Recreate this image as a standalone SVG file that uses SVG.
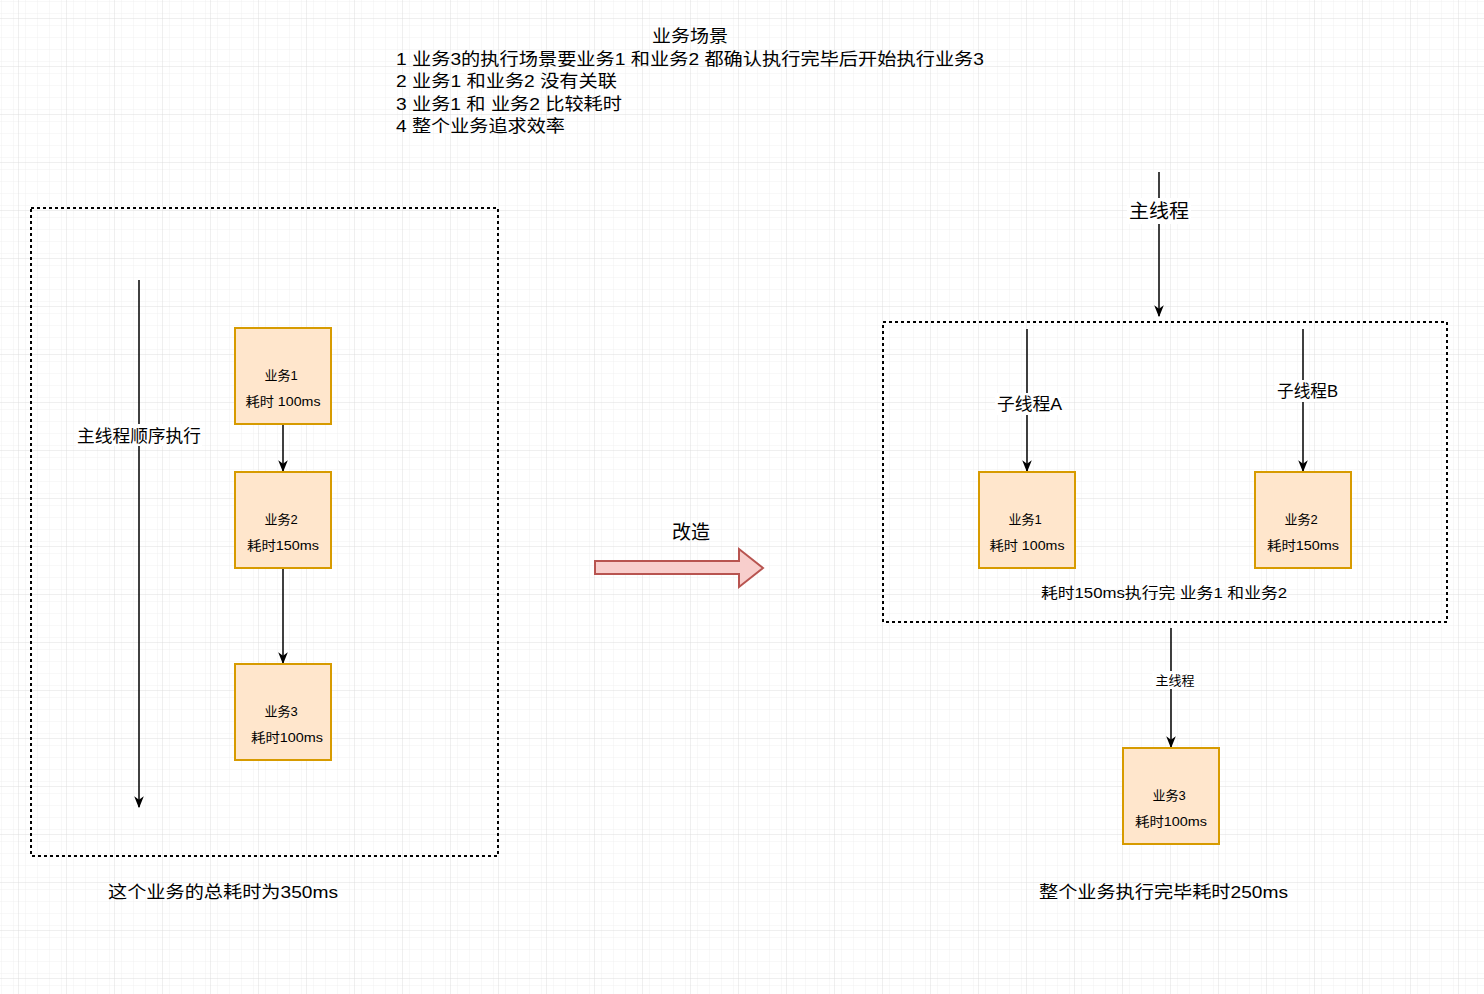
<svg xmlns="http://www.w3.org/2000/svg" width="1484" height="994" viewBox="0 0 1484 994">
<defs>
<pattern id="minor" width="12" height="12" patternUnits="userSpaceOnUse" x="7" y="7"><path d="M12 0V12H0" fill="none" stroke="#f0f0f0" stroke-width="1"/></pattern>
<pattern id="major" width="48" height="48" patternUnits="userSpaceOnUse" x="19" y="19"><rect width="48" height="48" fill="url(#minor)"/><path d="M48 0V48H0" fill="none" stroke="#dedede" stroke-width="1"/></pattern>
<marker id="ah" viewBox="0 0 10 10" refX="9" refY="5" markerWidth="8" markerHeight="8" orient="auto"><path d="M0 1L10 5L0 9L3 5Z" fill="#000"/></marker>
<style>
text{font-family:"Liberation Sans","Noto Sans CJK SC",sans-serif;fill:#000}
.box{fill:#ffe6cc;stroke:#d79b00;stroke-width:2}
.dash{fill:none;stroke:#000;stroke-width:2;stroke-dasharray:3 3}
.ln{stroke:#000;stroke-width:1.5;fill:none;marker-end:url(#ah)}
.s{font-size:13px;text-anchor:middle}
.m{font-size:17px}
.lb{fill:#fff}
</style>
</defs>
<rect width="1484" height="994" fill="#fff"/>
<rect width="1484" height="994" fill="url(#major)"/>
<g id="title"><text x="652" y="42" class="m" textLength="76" lengthAdjust="spacingAndGlyphs">业务场景</text>
<text x="396" y="65" class="m" textLength="588" lengthAdjust="spacingAndGlyphs">1 业务3的执行场景要业务1 和业务2 都确认执行完毕后开始执行业务3</text>
<text x="396" y="87" class="m" textLength="221" lengthAdjust="spacingAndGlyphs">2 业务1 和业务2 没有关联</text>
<text x="396" y="110" class="m" textLength="226" lengthAdjust="spacingAndGlyphs">3 业务1 和 业务2 比较耗时</text>
<text x="396" y="132" class="m" textLength="169" lengthAdjust="spacingAndGlyphs">4 整个业务追求效率</text></g>
<g id="left-frame"><rect x="31" y="208" width="467" height="648" class="dash"/></g>
<g id="right-frame"><rect x="883" y="322" width="564" height="300" class="dash"/></g>
<g id="connectors">
<line x1="139" y1="280" x2="139" y2="807" class="ln"/>
<line x1="283" y1="425" x2="283" y2="471" class="ln"/>
<line x1="283" y1="569" x2="283" y2="663" class="ln"/>
<line x1="1159" y1="172" x2="1159" y2="316" class="ln"/>
<line x1="1027" y1="329" x2="1027" y2="471" class="ln"/>
<line x1="1303" y1="329" x2="1303" y2="471" class="ln"/>
<line x1="1171" y1="628" x2="1171" y2="747" class="ln"/>
<rect x="76" y="424" width="126" height="22" class="lb"/><text x="77" y="442" class="m" textLength="124" lengthAdjust="spacingAndGlyphs">主线程顺序执行</text>
<rect x="1127" y="198" width="64" height="26" class="lb"/><text x="1129" y="218" font-size="19" textLength="60" lengthAdjust="spacingAndGlyphs">主线程</text>
<rect x="995" y="393" width="66" height="22" class="lb"/><text x="997" y="410" class="m" textLength="65" lengthAdjust="spacingAndGlyphs">子线程A</text>
<rect x="1275" y="380" width="64" height="22" class="lb"/><text x="1277" y="397" class="m" textLength="61" lengthAdjust="spacingAndGlyphs">子线程B</text>
<rect x="1152" y="671" width="46" height="18" class="lb"/><text x="1175" y="685" class="s">主线程</text>
</g>
<g id="b1l"><rect x="235" y="328" width="96" height="96" class="box"/><text x="281" y="380" class="s">业务1</text><text x="283" y="406" class="s" textLength="75" lengthAdjust="spacingAndGlyphs">耗时 100ms</text></g>
<g id="b2l"><rect x="235" y="472" width="96" height="96" class="box"/><text x="281" y="524" class="s">业务2</text><text x="283" y="550" class="s" textLength="72" lengthAdjust="spacingAndGlyphs">耗时150ms</text></g>
<g id="b3l"><rect x="235" y="664" width="96" height="96" class="box"/><text x="281" y="716" class="s">业务3</text><text x="287" y="742" class="s" textLength="72" lengthAdjust="spacingAndGlyphs">耗时100ms</text></g>
<g id="b1r"><rect x="979" y="472" width="96" height="96" class="box"/><text x="1025" y="524" class="s">业务1</text><text x="1027" y="550" class="s" textLength="75" lengthAdjust="spacingAndGlyphs">耗时 100ms</text></g>
<g id="b2r"><rect x="1255" y="472" width="96" height="96" class="box"/><text x="1301" y="524" class="s">业务2</text><text x="1303" y="550" class="s" textLength="72" lengthAdjust="spacingAndGlyphs">耗时150ms</text></g>
<g id="b3r"><rect x="1123" y="748" width="96" height="96" class="box"/><text x="1169" y="800" class="s">业务3</text><text x="1171" y="826" class="s" textLength="72" lengthAdjust="spacingAndGlyphs">耗时100ms</text></g>
<g id="arrow"><polygon points="595,561 739,561 739,549 763,568 739,587 739,574 595,574" fill="#f8cecc" stroke="#b85450" stroke-width="2"/>
<text x="691" y="539" font-size="19" text-anchor="middle">改造</text></g>
<g id="texts">
<text x="1041" y="598" font-size="15" textLength="246" lengthAdjust="spacingAndGlyphs">耗时150ms执行完 业务1 和业务2</text>
<text x="108" y="898" class="m" textLength="230" lengthAdjust="spacingAndGlyphs">这个业务的总耗时为350ms</text>
<text x="1039" y="898" class="m" textLength="249" lengthAdjust="spacingAndGlyphs">整个业务执行完毕耗时250ms</text>
</g>
</svg>
